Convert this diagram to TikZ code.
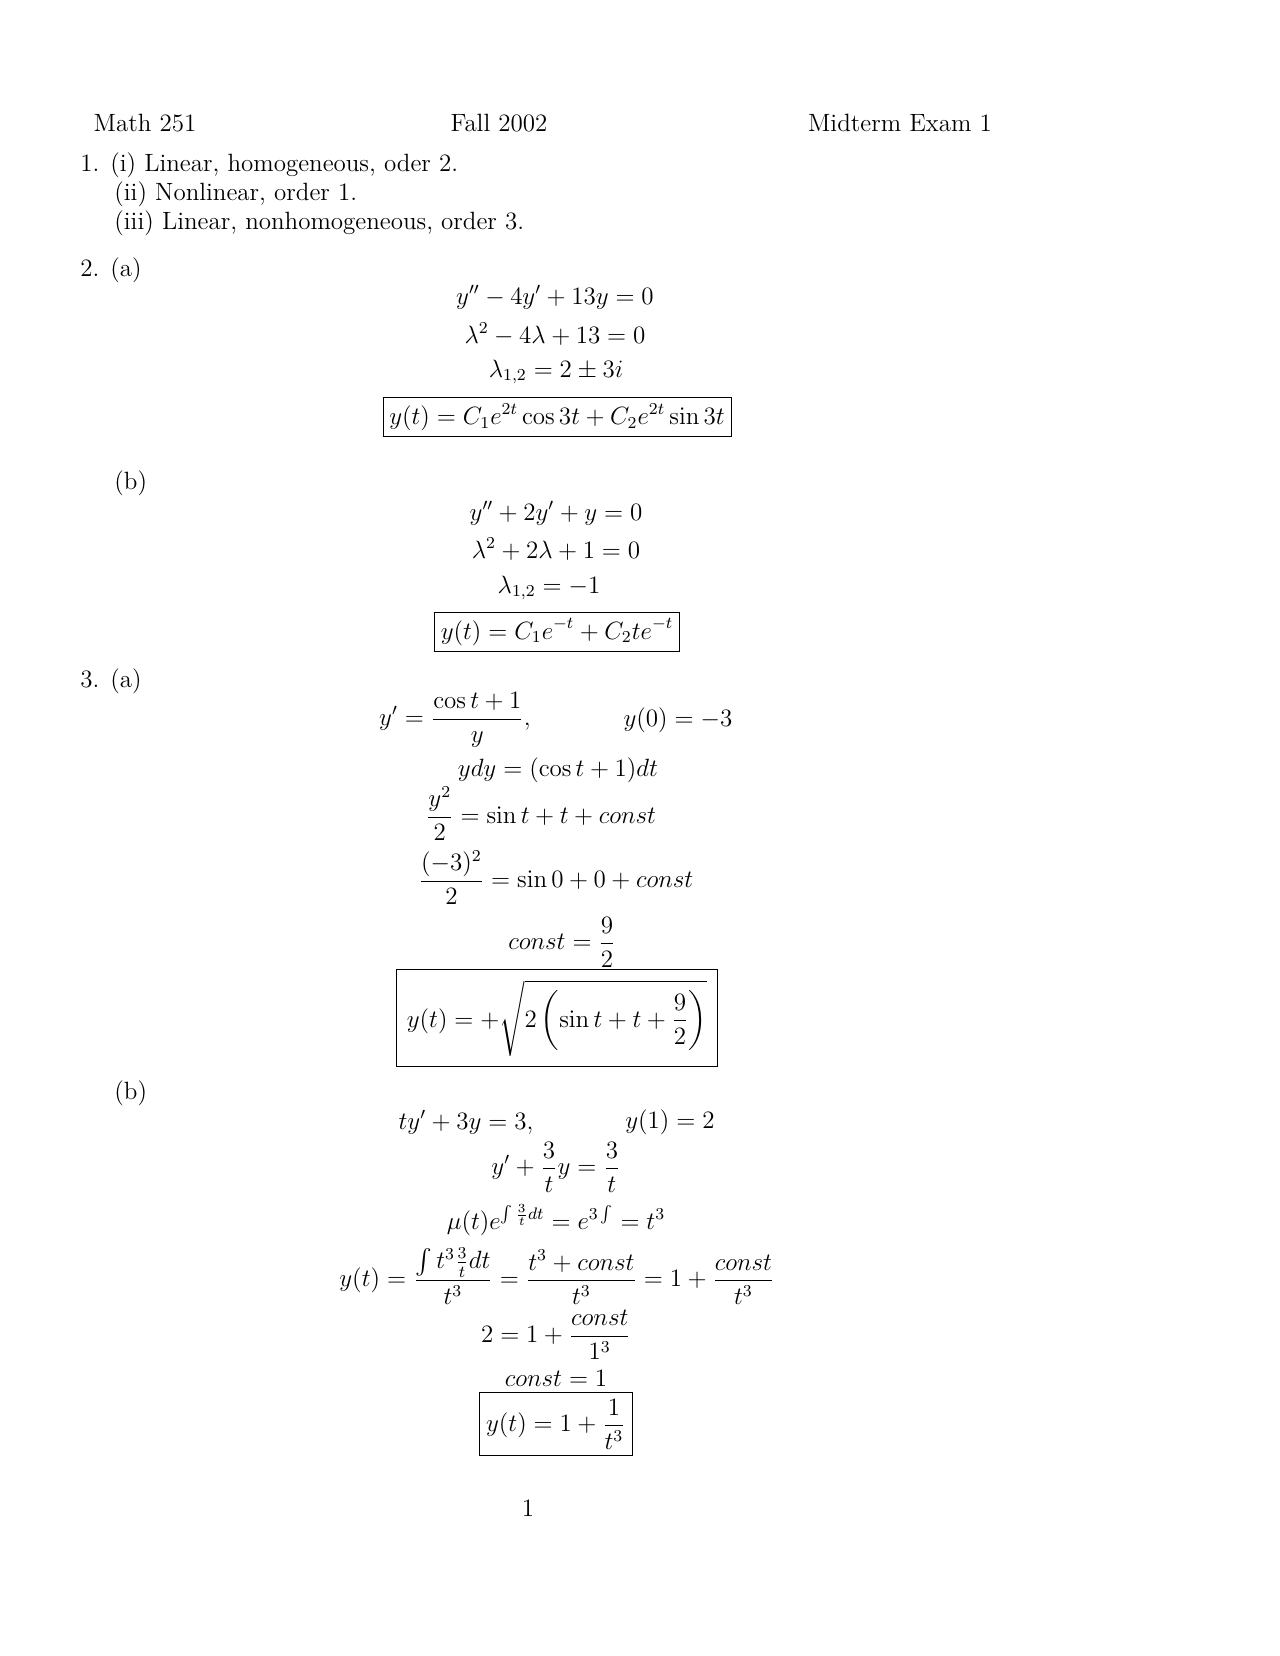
\documentclass[tikz,border=0pt,12pt]{standalone}
\usepackage{amsmath,amssymb,amsfonts}
\usetikzlibrary{calc}
\tikzset{
  txt/.style={anchor=west, inner sep=0pt},
  eq/.style={inner sep=1pt},
  boxeq/.style={draw, inner sep=3pt}
}
\newcommand{\dsp}[1]{$\displaystyle #1$}
\begin{document}
\begin{tikzpicture}[x=0.01687cm,y=-0.01687cm]
  \useasboundingbox (0,0) rectangle (1280,1656);
  % Encabezado
  \node (hdA) at (145,123) {Math 251};
  \node (hdB) at (499,123) {Fall 2002};
  \node (hdC) at (900,123) {Midterm Exam 1};

  % Problema 1
  \node[txt] (p1) at (80,165) {1. (i) Linear, homogeneous, oder 2.};
  \node[txt] (p1b) at (114,194) {(ii) Nonlinear, order 1.};
  \node[txt] (p1c) at (114,223) {(iii) Linear, nonhomogeneous, order 3.};

  % Problema 2
  \node[txt] (p2a) at (80,270) {2. (a)};
  \node[eq] (e1) at (555,297) {\dsp{y''-4y'+13y=0}};
  \node[eq] (e2) at (555,334) {\dsp{\lambda^2-4\lambda+13=0}};
  \node[eq] (e3) at (556,372) {\dsp{\lambda_{1,2}=2\pm 3i}};
  \node[boxeq] (e4) at (557,417) {\dsp{y(t)=C_1e^{2t}\cos 3t+C_2e^{2t}\sin 3t}};

  \node[txt] (p2b) at (114,483) {(b)};
  \node[eq] (f1) at (556,513) {\dsp{y''+2y'+y=0}};
  \node[eq] (f2) at (556,549) {\dsp{\lambda^2+2\lambda+1=0}};
  \node[eq] (f3) at (549,588) {\dsp{\lambda_{1,2}=-1}};
  \node[boxeq] (f4) at (557,632) {\dsp{y(t)=C_1e^{-t}+C_2te^{-t}}};

  % Problema 3
  \node[txt] (p3a) at (80,681) {3. (a)};
  \node[eq] (g1) at (455,720) {\dsp{y'=\frac{\cos t+1}{y},}};
  \node[eq] (g1b) at (678,720) {\dsp{y(0)=-3}};
  \node[eq] (g2) at (558,770) {\dsp{ydy=(\cos t+1)dt}};
  \node[eq] (g3) at (541,814) {\dsp{\frac{y^2}{2}=\sin t+t+const}};
  \node[eq] (g4) at (556,878) {\dsp{\frac{(-3)^2}{2}=\sin 0+0+const}};
  \node[eq] (g5) at (562,942) {\dsp{const=\frac{9}{2}}};
  \node[boxeq, inner sep=5pt] (g6) at (557,1018) {\dsp{y(t)=+\sqrt{2\left(\sin t+t+\frac{9}{2}\right)}}};

  \node[txt] (p3b) at (114,1093) {(b)};
  \node[eq] (h1) at (466,1122) {\dsp{ty'+3y=3,}};
  \node[eq] (h1b) at (670,1122) {\dsp{y(1)=2}};
  \node[eq] (h2) at (556,1167) {\dsp{y'+\frac{3}{t}y=\frac{3}{t}}};
  \node[eq] (h3) at (556,1220) {\dsp{\mu(t)e^{\int\frac{3}{t}dt}=e^{3\int}=t^3}};
  \node[eq] (h4) at (557,1276) {\dsp{y(t)=\frac{\int t^3\frac{3}{t}dt}{t^3}=\frac{t^3+const}{t^3}=1+\frac{const}{t^3}}};
  \node[eq] (h5) at (556,1335) {\dsp{2=1+\frac{const}{1^3}}};
  \node[eq] (h6) at (556,1378) {\dsp{const=1}};
  \node[boxeq] (h7) at (556,1424) {\dsp{y(t)=1+\frac{1}{t^3}}};

  % Numero de pagina
  \node (pg) at (528,1508) {1};
\end{tikzpicture}
\end{document}
